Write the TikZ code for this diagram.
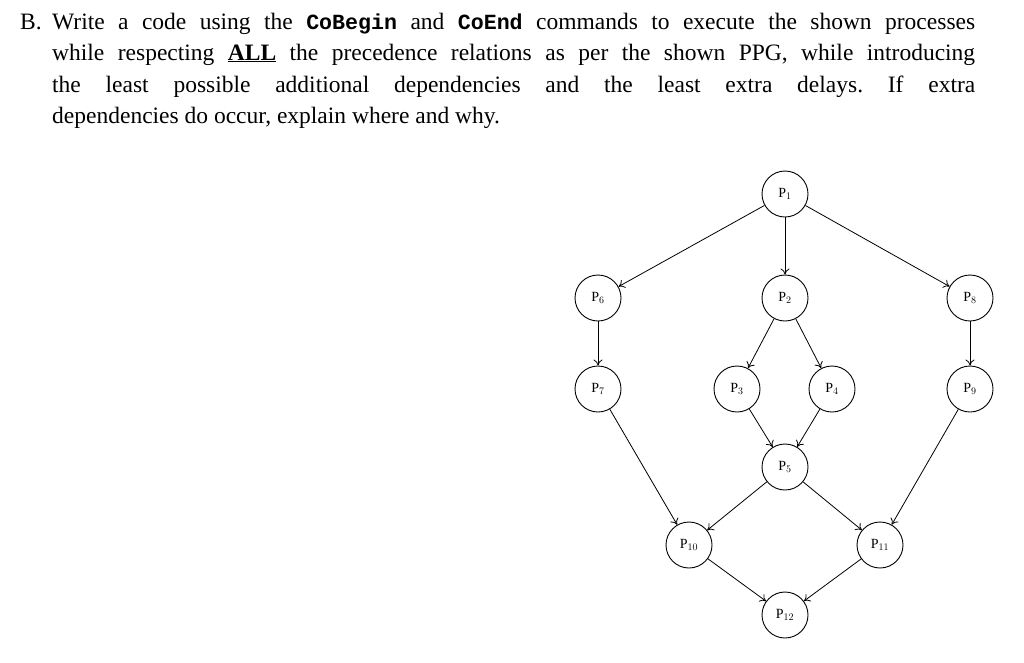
\documentclass[tikz,border=0pt]{standalone}
\usepackage{fontspec}
\usetikzlibrary{arrows.meta}
\setmainfont{Liberation Serif}
\setmonofont[Scale=0.92]{Liberation Mono}
\begin{document}
\begin{tikzpicture}[x=1pt,y=-1pt,
  proc/.style={circle,draw,line width=0.9pt,minimum size=46pt,inner sep=0pt,font=\fontsize{14}{16}\selectfont},
  arr/.style={-{To[length=6pt,width=9pt]},line width=0.8pt},
  txt/.style={anchor=base west,inner sep=0pt,font=\fontsize{23.5}{27}\selectfont}]
\useasboundingbox (0,0) rectangle (1024,662);
\node[txt] (b) at (20,29) {B.};
\node[txt] (l1) at (52,29) {\makebox[923pt][s]{Write a code using the \textbf{\texttt{CoBegin}} and \textbf{\texttt{CoEnd}} commands to execute the shown processes}};
\node[txt] (l2) at (52,60) {\makebox[923pt][s]{while respecting \underline{\textbf{ALL}} the precedence relations as per the shown PPG, while introducing}};
\node[txt] (l3) at (52,92) {\makebox[923pt][s]{the least possible additional dependencies and the least extra delays.\ If extra}};
\node[txt] (l4) at (52,123) {dependencies do occur, explain where and why.};
\node[proc] (p1) at (785,194) {P$_1$};
\node[proc] (p6) at (598,298) {P$_6$};
\node[proc] (p2) at (785,298) {P$_2$};
\node[proc] (p8) at (970,298) {P$_8$};
\node[proc] (p7) at (598,389) {P$_7$};
\node[proc] (p3) at (737,389) {P$_3$};
\node[proc] (p4) at (832,389) {P$_4$};
\node[proc] (p9) at (970,389) {P$_9$};
\node[proc] (p5) at (785,467) {P$_5$};
\node[proc] (p10) at (689,545) {P$_{10}$};
\node[proc] (p11) at (880,545) {P$_{11}$};
\node[proc] (p12) at (785,615) {P$_{12}$};
\foreach \a/\b in {p1/p6,p1/p2,p1/p8,p6/p7,p8/p9,p2/p3,p2/p4,p3/p5,p4/p5,p7/p10,p5/p10,p5/p11,p9/p11,p10/p12,p11/p12}
  \draw[arr] (\a) -- (\b);
\end{tikzpicture}
\end{document}
